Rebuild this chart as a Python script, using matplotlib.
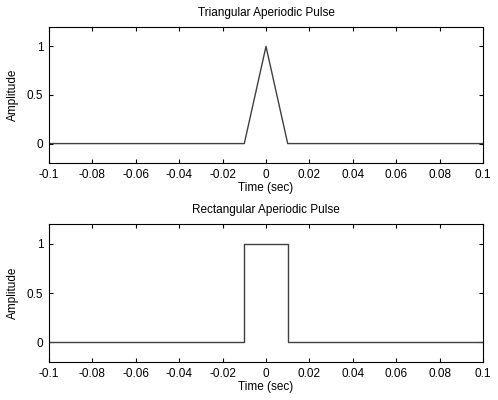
import numpy as np
import matplotlib.pyplot as plt

plt.rcParams['font.family'] = ['Liberation Sans', 'DejaVu Sans']
plt.rcParams['font.size'] = 8.5

# triangular pulse
t_tri = [-0.1, -0.01, 0.0, 0.01, 0.1]
y_tri = [0, 0, 1, 0, 0]

# rectangular pulse
t_rect = [-0.1, -0.01, -0.01, 0.01, 0.01, 0.1]
y_rect = [0, 0, 1, 1, 0, 0]

xticks = [-0.1, -0.08, -0.06, -0.04, -0.02, 0, 0.02, 0.04, 0.06, 0.08, 0.1]
xlabels = ['-0.1', '-0.08', '-0.06', '-0.04', '-0.02', '0', '0.02', '0.04', '0.06', '0.08', '0.1']
yticks = [0, 0.5, 1]
ylabels = ['0', '0.5', '1']

titles = ['Triangular Aperiodic Pulse', 'Rectangular Aperiodic Pulse']

W, H = 498, 400
fig = plt.figure(figsize=(W / 100, H / 100), dpi=100)
ax1 = fig.add_axes([49 / W, 1 - 163 / H, 434 / W, 136 / H])
ax2 = fig.add_axes([49 / W, 1 - 362 / H, 434 / W, 138 / H])

for ax, t, y, title in [(ax1, t_tri, y_tri, titles[0]), (ax2, t_rect, y_rect, titles[1])]:
    ax.plot(t, y, color='#404040', lw=1.0)
    ax.set_xlim(-0.1, 0.1)
    ax.set_ylim(-0.2, 1.2)
    ax.set_xticks(xticks)
    ax.set_xticklabels(xlabels)
    ax.set_yticks(yticks)
    ax.set_yticklabels(ylabels)
    ax.tick_params(direction='in', top=True, right=True, length=3, width=0.8, pad=4)
    for s in ax.spines.values():
        s.set_linewidth(0.8)
    ax.set_title(title, fontsize=8.5, pad=8)
    ax.set_xlabel('Time (sec)', labelpad=1)
    ax.set_ylabel('Amplitude', labelpad=6)

fig.savefig('out.png', dpi=100)
